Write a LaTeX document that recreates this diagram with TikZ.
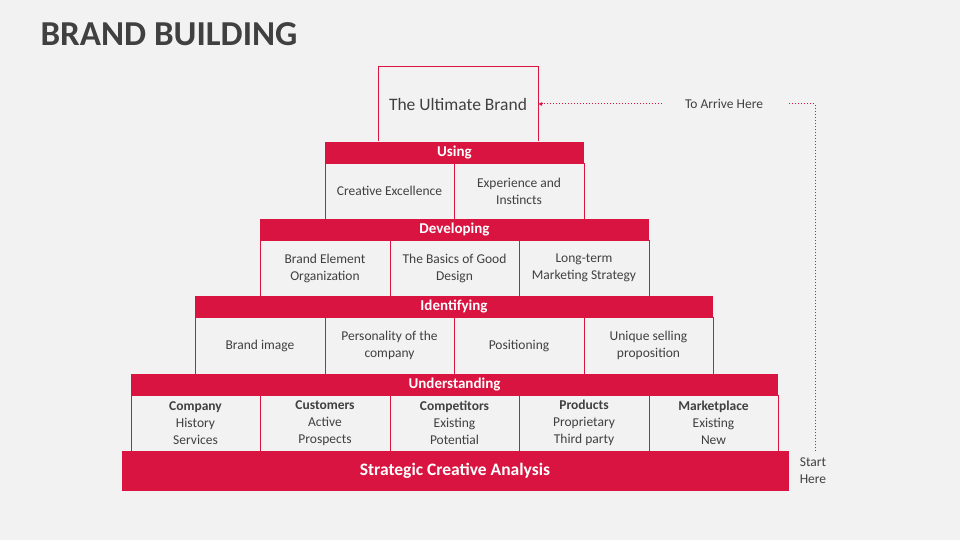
\documentclass[tikz,border=0pt]{standalone}
\usepackage{fontspec}
\setmainfont{Carlito}
\usetikzlibrary{arrows.meta}
\definecolor{rd}{HTML}{D91440}
\definecolor{tx}{HTML}{404040}
\definecolor{bg}{HTML}{F2F2F2}
\begin{document}
\begin{tikzpicture}[x=1pt,y=-1pt,
 cell/.style={draw=rd,line width=0.8pt,text=tx,align=center,font=\fontsize{13.5}{17}\selectfont},
 bar/.style={fill=rd,text=white,font=\bfseries\fontsize{15}{16}\selectfont},
 lab/.style={text=tx,align=center,font=\fontsize{13.5}{17}\selectfont},
 dot/.style={draw=rd,dotted,line width=1pt}]
\fill[bg] (0,0) rectangle (960,540);
\useasboundingbox (0,0) rectangle (960,540);
\node[anchor=west,text=tx,font=\bfseries\fontsize{35}{38}\selectfont] (title) at (37,34) {BRAND BUILDING};
% top
\draw[rd,line width=0.8pt] (378,141) |- (538,66) -- (538,141);
\node[lab,font=\fontsize{17.5}{19}\selectfont] (top) at (458,104) {The Ultimate Brand};
\coordinate (topr) at (538,104);
\newcommand{\rowbar}[5]{\fill[rd] (#1,#3) rectangle (#2,#3+21); \node[bar] (#4) at ({(#1+#2)/2},#3+10.5) {#5};}
\rowbar{325}{584}{142}{using}{Using}
\draw[cell] (325,163) rectangle (454,219) node[midway] (u1) {Creative Excellence};
\draw[cell] (454,163) rectangle (584,219) node[midway] (u2) {Experience and\\Instincts};
\rowbar{260}{649}{219}{dev}{Developing}
\draw[cell] (260,240) rectangle (390,296) node[midway] (d1) {Brand Element\\Organization};
\draw[cell] (390,240) rectangle (519,296) node[midway] (d2) {The Basics of Good\\Design};
\draw[cell] (519,240) rectangle (649,296) node[midway] (d3) {Long-term\\Marketing Strategy};
\rowbar{195}{713}{296}{idn}{Identifying}
\draw[cell] (195,317) rectangle (325,374) node[midway] (i1) {Brand image};
\draw[cell] (325,317) rectangle (454,374) node[midway] (i2) {Personality of the\\company};
\draw[cell] (454,317) rectangle (584,374) node[midway] (i3) {Positioning};
\draw[cell] (584,317) rectangle (713,374) node[midway] (i4) {Unique selling\\proposition};
\rowbar{131}{778}{374}{und}{Understanding}
\draw[cell] (131,395) rectangle (260,451) node[midway] (c1) {\textbf{Company}\\History\\Services};
\draw[cell] (260,395) rectangle (390,451) node[midway] (c2) {\textbf{Customers}\\Active\\Prospects};
\draw[cell] (390,395) rectangle (519,451) node[midway] (c3) {\textbf{Competitors}\\Existing\\Potential};
\draw[cell] (519,395) rectangle (649,451) node[midway] (c4) {\textbf{Products}\\Proprietary\\Third party};
\draw[cell] (649,395) rectangle (778,451) node[midway] (c5) {\textbf{Marketplace}\\Existing\\New};
\fill[rd] (122,451) rectangle (789,491);
\node[text=white,font=\bfseries\fontsize{17.5}{19}\selectfont] (base) at (455,471) {Strategic Creative Analysis};
\node[lab,align=left] (start) at (813,471) {Start\\Here};
\node[lab] (arr) at (724,104) {To Arrive Here};
\coordinate (s1) at (815,451);
\coordinate (s2) at (815,104);
\coordinate (s3) at (789,104);
\coordinate (a1) at (662,104);
\draw[dot] (s1) -- (s2) -- (s3);
\draw[dot,-{Latex[length=4pt,width=4pt]}] (a1) -- (topr);
\end{tikzpicture}
\end{document}
